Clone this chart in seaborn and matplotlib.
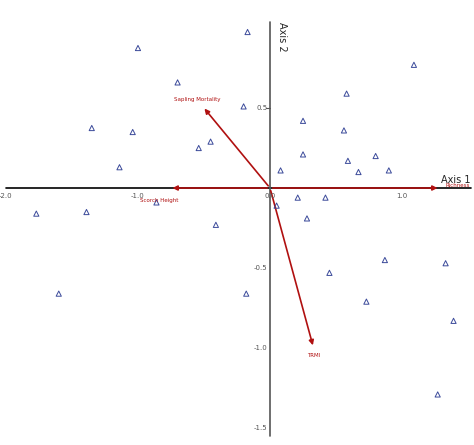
import matplotlib.pyplot as plt
import seaborn as sns
import pandas as pd

sns.set_style("white")

axis1 = [-1.00, -0.17, -0.70, -0.20, -1.35, -1.04, -0.45, -0.54, -1.14, 0.58, 1.09, 0.25,
         0.56, 0.25, 0.59, 0.80, 0.67, 0.90, 0.08, -0.86, 0.21, 0.42, 0.05, -1.77, -1.39,
         0.28, -0.41, 0.45, 0.87, 1.33, -1.60, -0.18, 0.73, 1.39, 1.27]
axis2 = [0.875, 0.975, 0.66, 0.51, 0.375, 0.35, 0.29, 0.25, 0.13, 0.59, 0.77, 0.42,
         0.36, 0.21, 0.17, 0.20, 0.10, 0.11, 0.11, -0.09, -0.06, -0.06, -0.11, -0.16, -0.15,
         -0.19, -0.23, -0.53, -0.45, -0.47, -0.66, -0.66, -0.71, -0.83, -1.29]

vec_names = ["Sapling Mortality", "Scorch Height", "Richness", "TRMI"]
vec_x = [-0.51, -0.76, 1.29, 0.33]
vec_y = [0.51, 0.0, 0.0, -1.0]

df = pd.DataFrame({"Axis 1": axis1, "Axis 2": axis2})

fig = plt.figure(figsize=(4.74, 4.45), dpi=100)
ax = fig.add_axes([0, 0, 1, 1])
ax.set_xlim(-2.045, 1.545)
ax.set_ylim(-1.606, 1.175)
for s in ax.spines.values():
    s.set_visible(False)
ax.set_xticks([])
ax.set_yticks([])

ax.plot([-2.0, 1.52], [0, 0], color="black", lw=1.2, zorder=1)
ax.plot([0, 0], [-1.55, 1.04], color="#555555", lw=1.2, zorder=1)

sns.scatterplot(data=df, x="Axis 1", y="Axis 2", marker="^", s=14,
                facecolor="none", edgecolor="#3b4a9a", linewidth=0.7, ax=ax, zorder=3)

for name, vx, vy in zip(vec_names, vec_x, vec_y):
    ax.annotate("", xy=(vx, vy), xytext=(0, 0),
                arrowprops=dict(arrowstyle="-|>", color="#b01010", lw=1.2,
                                mutation_scale=7), zorder=2)
ax.text(-0.55, 0.54, "Sapling Mortality", color="#b01010", fontsize=4, ha="center", va="bottom")
ax.text(-0.84, -0.065, "Scorch Height", color="#b01010", fontsize=4, ha="center", va="top")
ax.text(1.33, 0.015, "Richness", color="#b01010", fontsize=4, ha="left", va="center")
ax.text(0.33, -1.03, "TRMI", color="#b01010", fontsize=4, ha="center", va="top")

for v, lab in [(-2.0, "-2.0"), (-1.0, "-1.0"), (0.0, "0.0"), (1.0, "1.0")]:
    ax.text(v, -0.03, lab, fontsize=5, color="#555555", ha="center", va="top")
for v, lab in [(0.5, "0.5"), (-0.5, "-0.5"), (-1.0, "-1.0"), (-1.5, "-1.5")]:
    ax.text(-0.02, v, lab, fontsize=5, color="#555555", ha="right", va="center")
ax.plot([0, -0.03], [0.5, 0.5], color="#555555", lw=0.8)
ax.text(1.52, 0.02, "Axis 1", fontsize=7, ha="right", va="bottom")
ax.text(0.05, 1.04, "Axis 2", fontsize=7, rotation=270, ha="left", va="top")

fig.savefig("out.png", dpi=100)
